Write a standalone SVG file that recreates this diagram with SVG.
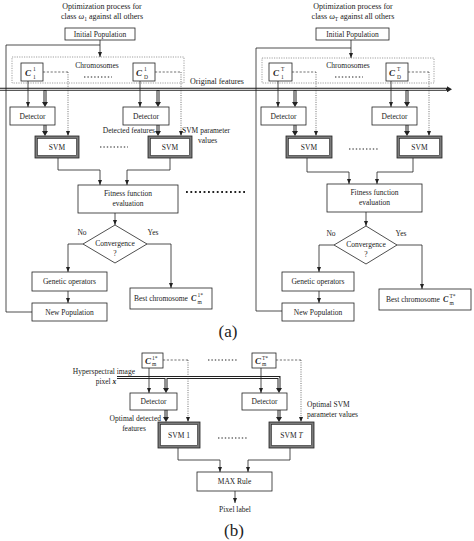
<svg xmlns="http://www.w3.org/2000/svg" width="474" height="541" viewBox="0 0 474 541">
<style>
text{font-family:"Liberation Serif","Times New Roman",serif;font-size:7.5px;fill:#222}
.m{text-anchor:middle}
.e{text-anchor:end}
.big{font-size:17px}
.t8{font-size:8px}
.box{fill:#fff;stroke:#222;stroke-width:0.8}
.svmo{fill:#7a7a7a;stroke:#222;stroke-width:0.8}
.svmi{fill:#fff;stroke:#222;stroke-width:0.6}
.ln{fill:none;stroke:#222;stroke-width:0.8}
.dash{fill:none;stroke:#333;stroke-width:0.7;stroke-dasharray:2.2,1.6}
.dot{fill:none;stroke:#333;stroke-width:0.7;stroke-dasharray:1,1.3}
.cbox{fill:none;stroke:#777;stroke-width:0.7;stroke-dasharray:1.2,1.2}
.dblo{fill:none;stroke:#222;stroke-width:3}
.dbli{fill:none;stroke:#fff;stroke-width:1}
.ell{fill:none;stroke:#222;stroke-width:1.1;stroke-dasharray:1.4,2;stroke-linecap:butt}
.ellb{fill:none;stroke:#222;stroke-width:1.8;stroke-dasharray:1.8,2.6}
.c{font-style:italic;font-weight:bold;font-size:9px}
.cs{font-style:italic;font-weight:bold;font-size:8px}
.s{font-size:5.5px}
</style>
<defs>
<marker id="a" markerWidth="5" markerHeight="4" refX="5" refY="2" orient="auto" markerUnits="userSpaceOnUse"><path d="M0,0 L5,2 L0,4 z" fill="#222"/></marker>
<marker id="ad" markerWidth="5" markerHeight="6" refX="0" refY="3" orient="auto" markerUnits="userSpaceOnUse"><path d="M0,0 L5,3 L0,6 z" fill="#222"/></marker>
</defs>

<!-- ===== Panel (a) left ===== -->
<g id="title1"><text class="m t8" x="102" y="9">Optimization process for</text><text class="m t8" x="102" y="19">class <tspan font-style="italic">ω</tspan><tspan class="s" dy="1.5">1</tspan><tspan dy="-1.5"> against all others</tspan></text></g>
<g id="init1"><rect class="box" x="65" y="28" width="70" height="12"/><text class="m" x="100" y="37">Initial Population</text></g>
<g id="chrom1"><rect class="cbox" x="12" y="57" width="172" height="26"/><text class="m" x="97" y="68">Chromosomes</text><line class="ell" x1="84" y1="77" x2="112" y2="77"/></g>
<g id="c11"><rect class="box" x="21" y="63" width="22" height="18"/><text x="25" y="76"><tspan class="c">C</tspan><tspan class="s" x="33" y="71">1</tspan><tspan class="s" x="33" y="79">1</tspan></text></g>
<g id="c1D"><rect class="box" x="133" y="63" width="22" height="18"/><text x="136" y="76"><tspan class="c">C</tspan><tspan class="s" x="144" y="71">1</tspan><tspan class="s" x="144" y="79">D</tspan></text></g>
<g id="det1a"><rect class="box" x="10" y="107" width="45" height="18"/><text class="m" x="32.5" y="119">Detector</text></g>
<g id="det1b"><rect class="box" x="123" y="107" width="46" height="18"/><text class="m" x="146" y="119">Detector</text></g>
<g id="svm1a"><rect class="svmo" x="35" y="136" width="44" height="22"/><rect class="svmi" x="37.5" y="138.5" width="39" height="17"/><text class="m" x="57" y="150">SVM</text></g>
<g id="svm1b"><rect class="svmo" x="148" y="136" width="44" height="22"/><rect class="svmi" x="150.5" y="138.5" width="39" height="17"/><text class="m" x="170" y="150">SVM</text></g>
<g id="fit1"><rect class="box" x="78" y="185" width="100" height="28"/><text class="m" x="128" y="196">Fitness function</text><text class="m" x="128" y="206">evaluation</text></g>
<g id="conv1"><polygon class="box" points="115,225 147,244 115,263 83,244"/><text class="m" x="115" y="246">Convergence</text><text class="m" x="115" y="256">?</text></g>
<g id="gen1"><rect class="box" x="32" y="272" width="75" height="19"/><text class="m" x="69.5" y="284">Genetic operators</text></g>
<g id="new1"><rect class="box" x="32" y="303" width="75" height="18"/><text class="m" x="69.5" y="315">New Population</text></g>
<g id="best1"><rect class="box" x="130" y="288" width="82" height="21"/><text x="134" y="301">Best chromosome</text><text x="191" y="301"><tspan class="cs">C</tspan><tspan class="s" x="197.5" y="297">1*</tspan><tspan class="s" x="197.5" y="304">m</tspan></text></g>

<!-- ===== Panel (a) right ===== -->
<g id="title2"><text class="m t8" x="353" y="9">Optimization process for</text><text class="m t8" x="353" y="19">class <tspan font-style="italic">ω</tspan><tspan class="s" dy="1.5">T</tspan><tspan dy="-1.5"> against all others</tspan></text></g>
<g id="init2"><rect class="box" x="316" y="28" width="73" height="12"/><text class="m" x="352.5" y="37">Initial Population</text></g>
<g id="chrom2"><rect class="cbox" x="262" y="58" width="172" height="25"/><text class="m" x="348" y="68">Chromosomes</text><line class="ell" x1="335" y1="77" x2="363" y2="77"/></g>
<g id="cT1"><rect class="box" x="269" y="63" width="23" height="18"/><text x="273" y="76"><tspan class="c">C</tspan><tspan class="s" x="281" y="71">T</tspan><tspan class="s" x="281" y="79">1</tspan></text></g>
<g id="cTD"><rect class="box" x="386" y="63" width="22" height="18"/><text x="389" y="76"><tspan class="c">C</tspan><tspan class="s" x="397" y="71">T</tspan><tspan class="s" x="397" y="79">D</tspan></text></g>
<g id="det2a"><rect class="box" x="261" y="107" width="45" height="18"/><text class="m" x="283.5" y="119">Detector</text></g>
<g id="det2b"><rect class="box" x="372" y="107" width="45" height="18"/><text class="m" x="394.5" y="119">Detector</text></g>
<g id="svm2a"><rect class="svmo" x="286" y="136" width="46" height="22"/><rect class="svmi" x="288.5" y="138.5" width="41" height="17"/><text class="m" x="309" y="150">SVM</text></g>
<g id="svm2b"><rect class="svmo" x="397" y="136" width="45" height="22"/><rect class="svmi" x="399.5" y="138.5" width="40" height="17"/><text class="m" x="419.5" y="150">SVM</text></g>
<g id="fit2"><rect class="box" x="327" y="184" width="95" height="28"/><text class="m" x="374.5" y="195">Fitness function</text><text class="m" x="374.5" y="205">evaluation</text></g>
<g id="conv2"><polygon class="box" points="366,226 397,245 366,264 334,245"/><text class="m" x="366" y="247">Convergence</text><text class="m" x="366" y="257">?</text></g>
<g id="gen2"><rect class="box" x="282" y="272" width="72" height="19"/><text class="m" x="318" y="284">Genetic operators</text></g>
<g id="new2"><rect class="box" x="282" y="303" width="72" height="18"/><text class="m" x="318" y="315">New Population</text></g>
<g id="best2"><rect class="box" x="379" y="289" width="92" height="21"/><text x="386" y="302">Best chromosome</text><text x="443" y="302"><tspan class="cs">C</tspan><tspan class="s" x="449.5" y="298">T*</tspan><tspan class="s" x="449.5" y="305">m</tspan></text></g>

<!-- ===== Panel (b) ===== -->
<g id="cm1"><rect class="box" x="142" y="353" width="21" height="15"/><text x="145" y="364"><tspan class="c">C</tspan><tspan class="s" x="152" y="359.5">1*</tspan><tspan class="s" x="152" y="366">m</tspan></text></g>
<g id="cmT"><rect class="box" x="252" y="353" width="24" height="15"/><text x="255" y="364"><tspan class="c">C</tspan><tspan class="s" x="262" y="359.5">T*</tspan><tspan class="s" x="262" y="366">m</tspan></text></g>
<g id="detb1"><rect class="box" x="130" y="393" width="47" height="17"/><text class="m" x="153.5" y="404">Detector</text></g>
<g id="detbT"><rect class="box" x="242" y="393" width="45" height="17"/><text class="m" x="264.5" y="404">Detector</text></g>
<g id="svmb1"><rect class="svmo" x="158" y="422" width="42" height="26"/><rect class="svmi" x="160.5" y="424.5" width="37" height="21"/><text class="m" x="179" y="438">SVM 1</text></g>
<g id="svmbT"><rect class="svmo" x="269" y="422" width="45" height="26"/><rect class="svmi" x="271.5" y="424.5" width="40" height="21"/><text class="m" x="291.5" y="438">SVM <tspan font-style="italic">T</tspan></text></g>
<g id="max"><rect class="box" x="197" y="472" width="75" height="19"/><text class="m" x="234.5" y="484">MAX Rule</text></g>

<!-- ===== Connectors ===== -->
<g id="connectors">
<path class="dblo" d="M0,89.3 H447" marker-end="url(#ad)"/>
<path class="dbli" d="M0,89.3 H446"/>
<g>
<path class="dblo" d="M45,90 V102" marker-end="url(#ad)"/><path class="dbli" d="M45,91 V102"/>
<path class="dblo" d="M158,90 V102" marker-end="url(#ad)"/><path class="dbli" d="M158,91 V102"/>
<path class="dblo" d="M295,90 V102" marker-end="url(#ad)"/><path class="dbli" d="M295,91 V102"/>
<path class="dblo" d="M407,90 V102" marker-end="url(#ad)"/><path class="dbli" d="M407,91 V102"/>
<path class="dblo" d="M45,125 V131" marker-end="url(#ad)"/><path class="dbli" d="M45,125.5 V131"/>
<path class="dblo" d="M158,125 V131" marker-end="url(#ad)"/><path class="dbli" d="M158,125.5 V131"/>
<path class="dblo" d="M295,125 V131" marker-end="url(#ad)"/><path class="dbli" d="M295,125.5 V131"/>
<path class="dblo" d="M407,125 V131" marker-end="url(#ad)"/><path class="dbli" d="M407,125.5 V131"/>
</g>
<path class="ln" d="M28,81 V107" marker-end="url(#a)"/>
<path class="ln" d="M140,81 V107" marker-end="url(#a)"/>
<path class="ln" d="M278,81 V107" marker-end="url(#a)"/>
<path class="ln" d="M391,81 V107" marker-end="url(#a)"/>
<path class="dash" d="M43,72 H68"/><path class="dot" d="M68,72 V136" marker-end="url(#a)"/>
<path class="dash" d="M155,72 H181"/><path class="dot" d="M181,72 V136" marker-end="url(#a)"/>
<path class="dash" d="M292,72 H316"/><path class="dot" d="M316,72 V136" marker-end="url(#a)"/>
<path class="dash" d="M408,72 H429"/><path class="dot" d="M429,72 V136" marker-end="url(#a)"/>
<path class="ln" d="M100,40 V57" marker-end="url(#a)"/>
<path class="ln" d="M32,312 H6 V45 H100"/>
<path class="ln" d="M351,40 V58" marker-end="url(#a)"/>
<path class="ln" d="M282,311 H256 V48 H351"/>
<path class="ln" d="M58,158 V170 H100 V185" marker-end="url(#a)"/>
<path class="ln" d="M170,158 V170 H127 V185" marker-end="url(#a)"/>
<path class="ln" d="M307,158 V172 H349 V184" marker-end="url(#a)"/>
<path class="ln" d="M413,158 V172 H377 V184" marker-end="url(#a)"/>
<path class="ln" d="M115,213 V225" marker-end="url(#a)"/>
<path class="ln" d="M366,212 V226" marker-end="url(#a)"/>
<path class="ln" d="M83,244 H68 V272" marker-end="url(#a)"/>
<path class="ln" d="M147,244 H171 V288" marker-end="url(#a)"/>
<path class="ln" d="M334,245 H319 V272" marker-end="url(#a)"/>
<path class="ln" d="M397,245 H422 V289" marker-end="url(#a)"/>
<path class="ln" d="M68,291 V303" marker-end="url(#a)"/>
<path class="ln" d="M319,291 V303" marker-end="url(#a)"/>
<path class="dblo" d="M117,377.5 H279 V388" marker-end="url(#ad)"/><path class="dbli" d="M117,377.5 H279 V388"/>
<path class="dblo" d="M166,378.5 V388" marker-end="url(#ad)"/><path class="dbli" d="M166,377.5 V388"/>
<path class="ln" d="M149,368 V393" marker-end="url(#a)"/>
<path class="ln" d="M261,368 V393" marker-end="url(#a)"/>
<path class="dblo" d="M166,410 V417" marker-end="url(#ad)"/><path class="dbli" d="M166,410.5 V417"/>
<path class="dblo" d="M279,410 V417" marker-end="url(#ad)"/><path class="dbli" d="M279,410.5 V417"/>
<path class="dash" d="M163,360 H188"/><path class="dot" d="M188,360 V422" marker-end="url(#a)"/>
<path class="dash" d="M276,360 H301"/><path class="dot" d="M301,360 V422" marker-end="url(#a)"/>
<path class="ln" d="M178,448 V460 H220 V472" marker-end="url(#a)"/>
<path class="ln" d="M290,448 V460 H248 V472" marker-end="url(#a)"/>
<path class="ln" d="M235,491 V503" marker-end="url(#a)"/>
</g>

<line class="ell" x1="100" y1="147" x2="128" y2="147"/>
<line class="ell" x1="349" y1="149" x2="379" y2="149"/>
<line class="ellb" x1="186" y1="192" x2="247" y2="192"/>
<line class="ell" x1="208" y1="360" x2="238" y2="360"/>
<line class="ell" x1="218" y1="438" x2="247" y2="438"/>

<text class="t8" x="190" y="84">Original features</text>
<text class="e" x="155" y="133">Detected features</text>
<text x="182" y="133">SVM parameter</text>
<text x="198" y="143">values</text>
<text class="m" x="82" y="235">No</text>
<text class="m" x="153" y="235">Yes</text>
<text class="m" x="331" y="236">No</text>
<text class="m" x="401" y="236">Yes</text>
<text class="e" x="135" y="373.5">Hyperspectral image</text>
<text class="m" x="106" y="384">pixel <tspan font-style="italic" font-weight="bold">x</tspan></text>
<text class="e" x="161" y="421">Optimal detected</text>
<text class="m" x="134" y="431">features</text>
<text x="307" y="407">Optimal SVM</text>
<text x="307" y="417">parameter values</text>
<text class="m" x="235" y="512">Pixel label</text>
<text class="m big" x="228" y="337">(a)</text>
<text class="m big" x="234" y="536">(b)</text>
</svg>
